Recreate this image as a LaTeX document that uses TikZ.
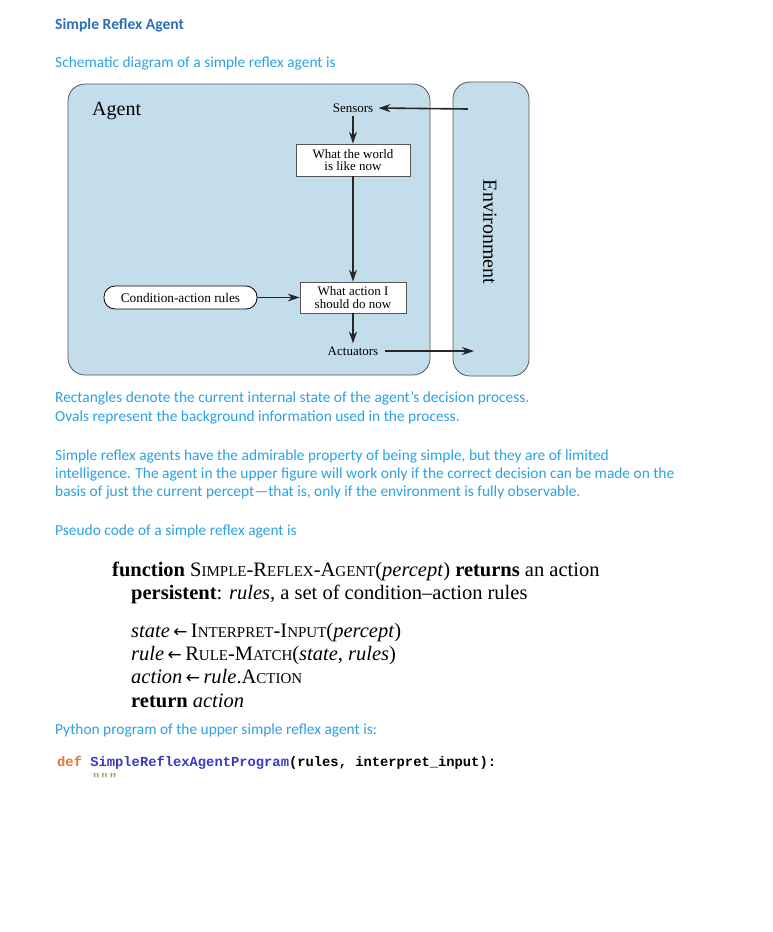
\documentclass[tikz,border=0pt]{standalone}
\usepackage{fontspec}
\setmainfont{Liberation Serif}
\newfontfamily\bodyfont{Carlito}
\newfontfamily\codefont{Liberation Mono}
\newfontfamily\arrowfont{DejaVu Sans}
\usetikzlibrary{arrows.meta}
\definecolor{headblue}{HTML}{2E6FB8}
\definecolor{bodyblue}{HTML}{2BA2E4}
\definecolor{agentfill}{HTML}{C4DDEB}
\definecolor{edgegray}{HTML}{555555}
\definecolor{kworange}{HTML}{E07A3A}
\definecolor{fnblue}{HTML}{3A3AC8}
\definecolor{strgreen}{HTML}{8AAA7A}
\newcommand\scx[2]{#1{\fontsize{15}{15}\selectfont #2}}
\newcommand\assignarrow{\,{\arrowfont\fontsize{17}{17}\selectfont ←}\,}
\tikzset{
  panel/.style={draw=edgegray, line width=0.8pt, fill=agentfill, rounded corners=17pt, inner sep=0pt},
  statebox/.style={draw=edgegray, line width=0.8pt, fill=white, inner sep=0pt, align=center, font=\fontsize{13}{12.5}\selectfont},
  ovalbox/.style={draw=black, line width=0.8pt, fill=white, inner sep=0pt, rounded corners=11pt, font=\fontsize{13.3}{13}\selectfont},
  lbl/.style={inner xsep=5pt, inner ysep=3pt, font=\fontsize{13}{13}\selectfont},
  flow/.style={-{Stealth[length=12pt,width=8pt]}, line width=1.6pt, black!85},
  body/.style={anchor=base west, inner sep=0pt, text=bodyblue, font=\bodyfont\fontsize{15.4}{17}\selectfont},
  pseudo/.style={anchor=base west, inner sep=0pt, text height=14pt, text depth=3.5pt, font=\fontsize{20.5}{22}\selectfont},
}
\begin{document}
\begin{tikzpicture}[x=1pt,y=-1pt]
\useasboundingbox[fill=white] (0,0) rectangle (772,932);
% headings
\node[anchor=base west, inner sep=0pt, text=headblue, font=\bodyfont\bfseries\fontsize{15.6}{17}\selectfont] (title) at (55,29) {Simple Reflex Agent};
\node[body] (intro) at (55,67) {Schematic diagram of a simple reflex agent is};
% diagram panels
\node[panel, minimum width=362pt, minimum height=291pt] (agent) at (249,229.5) {};
\node[panel, minimum width=76pt, minimum height=294pt] (env) at (491,229) {};
\node[anchor=west, inner sep=0pt, font=\fontsize{20}{20}\selectfont] (agentlbl) at (92,111) {Agent};
\node[rotate=-90, inner sep=0pt, font=\fontsize{20}{20}\selectfont] (envlbl) at (490,232) {Environment};
\node[lbl] (sensors) at (353,108) {Sensors};
\node[statebox, minimum width=114pt, minimum height=32pt] (world) at (353,160) {What the world\\is like now};
\node[statebox, minimum width=106pt, minimum height=31pt] (action) at (353,297.5) {What action I\\should do now};
\node[ovalbox, minimum width=153pt, minimum height=23pt] (rules) at (180.5,297.5) {Condition-action rules};
\node[lbl] (actuators) at (353,351) {Actuators};
\coordinate (envin) at (468,109);
\coordinate (envout) at (474,351);
\draw[flow] (envin) -- (sensors.east);
\draw[flow] (sensors.south) -- (world.north);
\draw[flow] (world.south) -- (action.north);
\draw[flow] (rules.east) -- (action.west);
\draw[flow] (action.south) -- (actuators.north);
\draw[flow] ([xshift=2pt]actuators.east) -- (envout);
% explanatory text
\node[body] (t1) at (55,402) {Rectangles denote the current internal state of the agent’s decision process.};
\node[body] (t2) at (55,421) {Ovals represent the background information used in the process.};
\node[body] (t3) at (55,460) {Simple reflex agents have the admirable property of being simple, but they are of limited};
\node[body] (t4) at (55,478) {intelligence. The agent in the upper figure will work only if the correct decision can be made on the};
\node[body] (t5) at (55,496) {basis of just the current percept—that is, only if the environment is fully observable.};
\node[body] (t6) at (55,535) {Pseudo code of a simple reflex agent is};
% pseudocode
\node[pseudo] (p1) at (112,576) {\textbf{function} \scx{S}{IMPLE}-\scx{R}{EFLEX}-\scx{A}{GENT}(\textit{percept}) \textbf{returns} an action};
\node[pseudo] (p2) at (131,599) {\textbf{persistent}: \textit{rules}, a set of condition–action rules};
\node[pseudo] (p3) at (131,637) {\textit{state}\assignarrow\scx{I}{NTERPRET}-\scx{I}{NPUT}(\textit{percept})};
\node[pseudo] (p4) at (131,660) {\textit{rule}\assignarrow\scx{R}{ULE}-\scx{M}{ATCH}(\textit{state}, \textit{rules})};
\node[pseudo] (p5) at (131,683) {\textit{action}\assignarrow\textit{rule}.\scx{A}{CTION}};
\node[pseudo] (p6) at (131,707) {\textbf{return} \textit{action}};
% python
\node[body] (t7) at (55,734) {Python program of the upper simple reflex agent is:};
\node[anchor=base west, inner sep=0pt, font=\codefont\bfseries\fontsize{13.8}{14}\selectfont] (code1) at (57,766) {\textcolor{kworange}{def} \textcolor{fnblue}{SimpleReflexAgentProgram}(rules, interpret\_input):};
\node[anchor=base west, inner sep=0pt, text=strgreen, font=\codefont\bfseries\fontsize{13.8}{14}\selectfont] (code2) at (92,783) {"""};
\end{tikzpicture}
\end{document}
